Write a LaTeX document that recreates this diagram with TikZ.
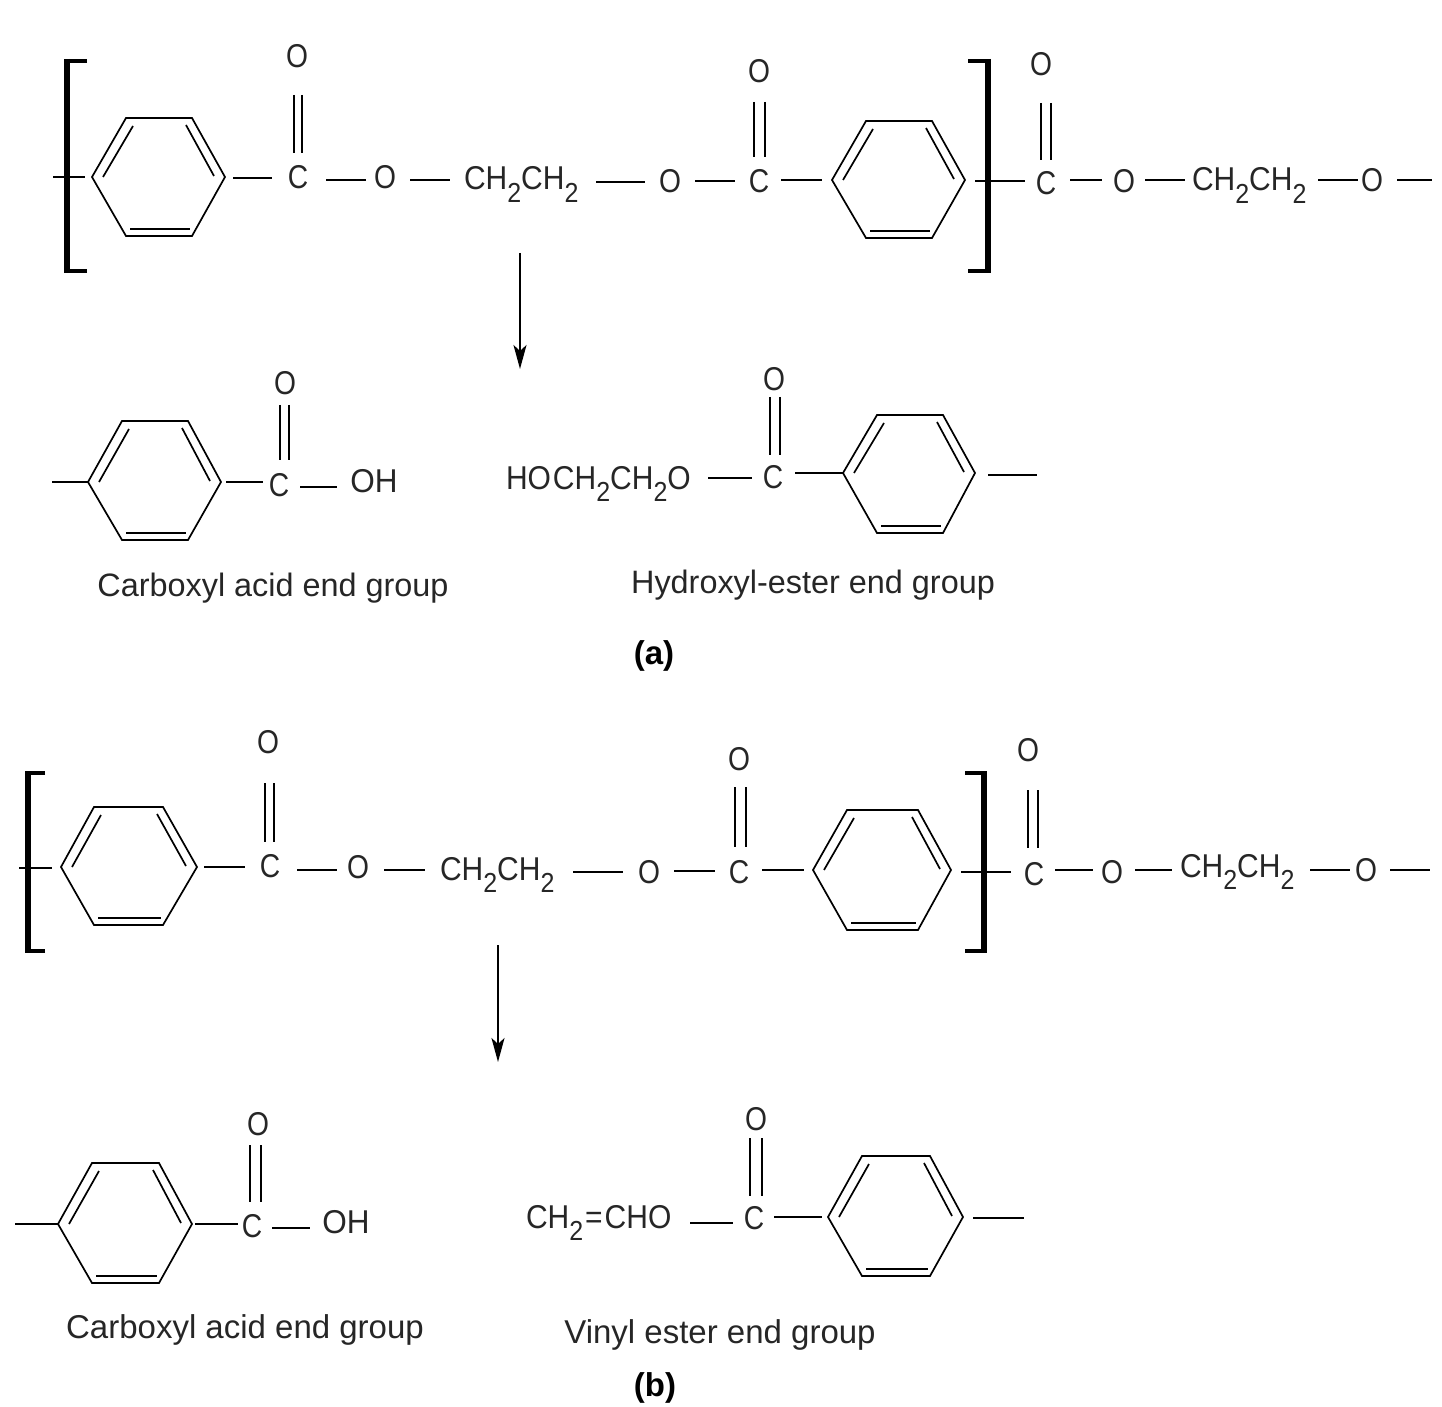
\documentclass[tikz,border=0pt]{standalone}
\usepackage{fontspec}
\setmainfont{Liberation Sans}
\usetikzlibrary{arrows.meta}
\newcounter{bn}
\newcommand{\sbt}[1]{\raisebox{-5.5pt}{\fontsize{12.5}{12.5}\selectfont #1}}
\newcommand{\ethyl}{CH\sbt{2}CH\sbt{2}}
\tikzset{
  bond/.style={draw=black,line width=1pt,line cap=butt},
  ringline/.style={draw=black,line width=0.85pt,line join=miter},
  bracketbar/.style={draw=black,line width=2.7pt,line cap=butt},
  brackettab/.style={draw=black,line width=1.8pt,line cap=butt},
  atom/.style={inner sep=0pt,outer sep=0pt,font=\fontsize{15}{15}\selectfont,text=black!85,transform shape,xscale=0.94,yscale=1.1},
  hydroxyl/.style={inner sep=0pt,outer sep=0pt,font=\fontsize{15}{15}\selectfont,text=black!85,transform shape,xscale=1.05,yscale=1.1},
  chain/.style={inner sep=0pt,outer sep=0pt,font=\fontsize{15}{15}\selectfont,text=black!85,transform shape,yscale=1.1,anchor=base west},
  caption/.style={inner sep=0pt,font=\fontsize{16.2}{16}\selectfont,text=black!85},
  captionb/.style={inner sep=0pt,font=\fontsize{16.5}{16}\selectfont,text=black!85},
  panel/.style={inner sep=0pt,font=\fontsize{16.5}{15}\selectfont\bfseries},
  reaction/.style={draw=black,line width=1.1pt,-{Stealth[length=12pt,width=6.5pt,inset=3pt]}}
}
% single bond between two named end coordinates
\newcommand{\bnd}[4]{\stepcounter{bn}%
  \coordinate (b\thebn a) at (#1,#2);\coordinate (b\thebn b) at (#3,#4);%
  \draw[bond] (b\thebn a) -- (b\thebn b);}
% double bond x1 x2 y1 y2
\newcommand{\dbl}[4]{\bnd{#1}{#3}{#1}{#4}\bnd{#2}{#3}{#2}{#4}}
% ring: xl xt1 xt2 xr ytop ymid ybot
\newcommand{\ring}[7]{%
  \draw[ringline] (#1,#6) -- (#2,#5) -- (#3,#5) -- (#4,#6) -- (#3,#7) -- (#2,#7) -- cycle;
  \draw[ringline] ({#1+11},{#6}) -- ({#2+7},{#5+8});
  \draw[ringline] ({#3-6},{#5+7}) -- ({#4-11},{#6-1});
  \draw[ringline] ({#2+4},{#7-7}) -- ({#3-2},{#7-7});
}
% brackets: xvert ytop ybot xtab
\newcommand{\brk}[4]{\draw[bracketbar] (#1,{#2-2}) -- (#1,{#3+2});
  \draw[brackettab] (#4,#2) -- (#1,#2);\draw[brackettab] (#4,#3) -- (#1,#3);}
\begin{document}
\begin{tikzpicture}[x=0.5pt,y=-0.5pt]
\useasboundingbox (0,0) rectangle (1442,1407);
% ===== (a) polymer
\brk{67}{61}{271}{87}
\bnd{53}{177}{85}{177}
\ring{92}{126}{192}{225}{118}{177}{236}
\bnd{233}{178}{272}{178}
\node[atom] (ac1) at (298,177) {C};
\dbl{294}{302}{95}{153}
\node[atom] (ao1) at (297,56) {O};
\bnd{326}{180}{366}{180}
\node[atom] (ao2) at (385,177) {O};
\bnd{410}{180}{450}{180}
\node[chain] (ae1) at (464,190) {\ethyl};
\bnd{596}{182}{645}{182}
\node[atom] (ao3) at (670,181) {O};
\bnd{695}{181}{735}{181}
\node[atom] (ac2) at (759,181) {C};
\dbl{754}{765}{102}{157}
\node[atom] (ao4) at (759,71) {O};
\bnd{781}{180}{822}{180}
\ring{832}{866}{932}{965}{121}{180}{238}
\bnd{975}{181}{1025}{181}
\brk{988}{61}{271}{968}
\node[atom] (ac3) at (1046,183) {C};
\dbl{1041}{1051}{103}{160}
\node[atom] (ao5) at (1041,64) {O};
\bnd{1070}{180}{1102}{180}
\node[atom] (ao6) at (1124,181) {O};
\bnd{1145}{180}{1185}{180}
\node[chain] (ae2) at (1192,191) {\ethyl};
\bnd{1318}{180}{1358}{180}
\node[atom] (ao7) at (1372,180) {O};
\bnd{1397}{180}{1432}{180}
\coordinate (aarr1) at (520,253);
\coordinate (aarr2) at (520,369);
\draw[reaction] (aarr1) -- (aarr2);
% (a) end groups
\bnd{52}{482}{88}{482}
\ring{88}{122}{188}{221}{421}{482}{540}
\bnd{226}{482}{263}{482}
\node[atom] (ac4) at (279,485) {C};
\dbl{280}{289}{405}{460}
\node[atom] (ao8) at (285,383) {O};
\bnd{300}{487}{337}{487}
\node[hydroxyl] (aoh) at (374,481) {OH};
\node[chain] (ahe) at (506,489) {HO\hspace{1pt}CH\sbt{2}CH\sbt{2}O};
\bnd{708}{478}{752}{478}
\node[atom] (ac5) at (773,477) {C};
\dbl{770}{780}{397}{455}
\node[atom] (ao9) at (774,379) {O};
\bnd{795}{473}{843}{473}
\ring{843}{877}{943}{975}{415}{473}{533}
\bnd{988}{475}{1037}{475}
\node[caption] (acap1) at (273,588) {Carboxyl acid end group};
\node[caption] (acap2) at (813,585) {Hydroxyl-ester end group};
\node[panel] (apanel) at (654,656) {(a)};
% ===== (b) polymer
\brk{28}{773}{951}{45}
\bnd{19}{868}{52}{868}
\ring{61}{94}{163}{197}{807}{867}{925}
\bnd{204}{867}{245}{867}
\node[atom] (bc1) at (270,866) {C};
\dbl{265}{274}{783}{842}
\node[atom] (bo1) at (268,742) {O};
\bnd{297}{870}{337}{870}
\node[atom] (bo2) at (358,867) {O};
\bnd{384}{870}{425}{870}
\node[chain] (be1) at (440,880) {\ethyl};
\bnd{573}{872}{623}{872}
\node[atom] (bo3) at (649,872) {O};
\bnd{674}{871}{715}{871}
\node[atom] (bc2) at (739,872) {C};
\dbl{735}{746}{787}{847}
\node[atom] (bo4) at (739,759) {O};
\bnd{762}{870}{804}{870}
\ring{813}{847}{918}{951}{810}{870}{930}
\bnd{961}{872}{1011}{872}
\brk{984}{773}{951}{965}
\node[atom] (bc3) at (1034,874) {C};
\dbl{1028}{1038}{790}{848}
\node[atom] (bo5) at (1028,750) {O};
\bnd{1055}{870}{1093}{870}
\node[atom] (bo6) at (1112,872) {O};
\bnd{1135}{870}{1172}{870}
\node[chain] (be2) at (1180,877) {\ethyl};
\bnd{1310}{870}{1350}{870}
\node[atom] (bo7) at (1366,870) {O};
\bnd{1390}{870}{1430}{870}
\coordinate (barr1) at (498,945);
\coordinate (barr2) at (498,1062);
\draw[reaction] (barr1) -- (barr2);
% (b) end groups
\bnd{15}{1224}{58}{1224}
\ring{58}{92}{159}{192}{1163}{1224}{1283}
\bnd{195}{1224}{238}{1224}
\node[atom] (bc4) at (252,1226) {C};
\dbl{250}{261}{1145}{1202}
\node[atom] (bo8) at (258,1124) {O};
\bnd{272}{1228}{310}{1228}
\node[hydroxyl] (boh) at (346,1222) {OH};
\node[chain] (bvi) at (526,1228) {CH\sbt{2}\hspace{1pt}=\hspace{1pt}CHO};
\bnd{690}{1223}{733}{1223}
\node[atom] (bc5) at (754,1218) {C};
\dbl{750}{762}{1138}{1196}
\node[atom] (bo9) at (756,1119) {O};
\bnd{774}{1217}{822}{1217}
\ring{828}{862}{930}{963}{1156}{1217}{1276}
\bnd{973}{1218}{1024}{1218}
\node[captionb] (bcap1) at (245,1330) {Carboxyl acid end group};
\node[captionb] (bcap2) at (720,1335) {Vinyl ester end group};
\node[panel] (bpanel) at (655,1388) {(b)};
\end{tikzpicture}
\end{document}
